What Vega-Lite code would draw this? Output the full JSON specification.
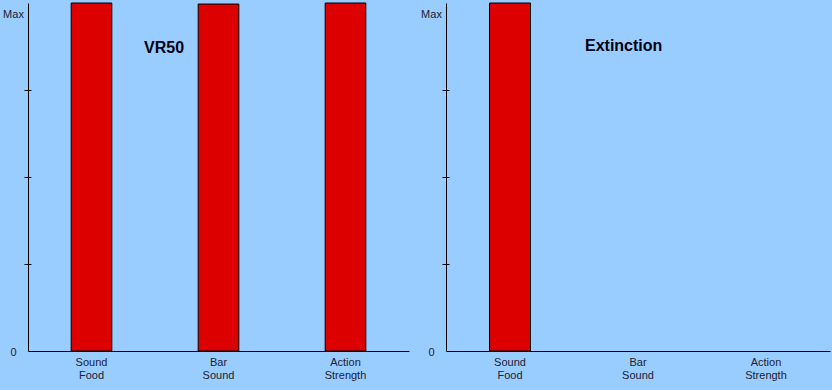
{
  "$schema": "https://vega.github.io/schema/vega-lite/v6.json",
  "background": "#99CCFF",
  "padding": {"left": 2, "top": 2, "right": 2, "bottom": 16},
  "spacing": 11,
  "config": {
    "view": {"stroke": null},
    "font": "Liberation Sans",
    "axis": {"labelFont": "Liberation Sans", "labelFontSize": 11, "labelColor": "#222233", "domainColor": "#000000", "tickColor": "#000000", "grid": false}
  },
  "data": {"values": [
    {"test": "VR50", "category": "Sound Food", "value": 1.0},
    {"test": "VR50", "category": "Bar Sound", "value": 0.997},
    {"test": "VR50", "category": "Action Strength", "value": 1.0},
    {"test": "Extinction", "category": "Sound Food", "value": 1.0},
    {"test": "Extinction", "category": "Bar Sound", "value": 0},
    {"test": "Extinction", "category": "Action Strength", "value": 0}
  ]},
  "hconcat": [
    {
      "width": 381, "height": 348,
      "title": {"text": "VR50", "anchor": "start", "frame": "group", "orient": "top", "offset": -66, "dx": 116, "baseline": "alphabetic", "fontSize": 16, "fontWeight": "bold", "font": "Liberation Sans", "color": "#000011"},
      "transform": [{"filter": "datum.test == 'VR50'"}],
      "encoding": {
        "x": {"field": "category", "type": "nominal", "sort": null, "title": null,
          "scale": {"paddingInner": 0.68, "paddingOuter": 0.34},
          "axis": {"labelAngle": 0, "ticks": false, "labelPadding": 5, "labelExpr": "split(datum.label, ' ')", "labelLineHeight": 13}}
      },
      "layer": [
        {"mark": {"type": "bar", "fill": "#DD0000", "stroke": "#000000", "strokeWidth": 1},
         "encoding": {
           "strokeOpacity": {"condition": {"test": "datum.value == 0", "value": 0}, "value": 1},
           "y": {"field": "value", "type": "quantitative", "title": null,
           "scale": {"domain": [0, 1], "nice": false},
           "axis": {"values": [0, 0.25, 0.5, 0.75, 1], "labelExpr": "datum.value == 1 ? 'Max' : datum.value == 0 ? '0' : ''", "labelAlign": "center", "labelPadding": 11, "tickSize": 4,
             "tickOpacity": {"condition": {"test": "datum.value == 0 || datum.value == 1", "value": 0}, "value": 1},
             "labelOffset": {"condition": {"test": "datum.value == 1", "value": 11}, "value": 1}}}}},
        {"mark": {"type": "bar", "opacity": 0},
         "encoding": {"y": {"field": "value", "type": "quantitative", "title": null,
           "scale": {"domain": [0, 1], "nice": false},
           "axis": {"orient": "left", "values": [0.25, 0.5, 0.75], "tickSize": -3, "labels": false, "domain": false}}}}
      ],
      "resolve": {"scale": {"y": "independent"}}
    },
    {
      "width": 384, "height": 348,
      "title": {"text": "Extinction", "anchor": "start", "frame": "group", "orient": "top", "offset": -64, "dx": 139, "baseline": "alphabetic", "fontSize": 16, "fontWeight": "bold", "font": "Liberation Sans", "color": "#000011"},
      "transform": [{"filter": "datum.test == 'Extinction'"}],
      "encoding": {
        "x": {"field": "category", "type": "nominal", "sort": null, "title": null,
          "scale": {"paddingInner": 0.68, "paddingOuter": 0.34},
          "axis": {"labelAngle": 0, "ticks": false, "labelPadding": 5, "labelExpr": "split(datum.label, ' ')", "labelLineHeight": 13}}
      },
      "layer": [
        {"mark": {"type": "bar", "fill": "#DD0000", "stroke": "#000000", "strokeWidth": 1},
         "encoding": {
           "strokeOpacity": {"condition": {"test": "datum.value == 0", "value": 0}, "value": 1},
           "y": {"field": "value", "type": "quantitative", "title": null,
           "scale": {"domain": [0, 1], "nice": false},
           "axis": {"values": [0, 0.25, 0.5, 0.75, 1], "labelExpr": "datum.value == 1 ? 'Max' : datum.value == 0 ? '0' : ''", "labelAlign": "center", "labelPadding": 11, "tickSize": 4,
             "tickOpacity": {"condition": {"test": "datum.value == 0 || datum.value == 1", "value": 0}, "value": 1},
             "labelOffset": {"condition": {"test": "datum.value == 1", "value": 11}, "value": 1}}}}},
        {"mark": {"type": "bar", "opacity": 0},
         "encoding": {"y": {"field": "value", "type": "quantitative", "title": null,
           "scale": {"domain": [0, 1], "nice": false},
           "axis": {"orient": "left", "values": [0.25, 0.5, 0.75], "tickSize": -3, "labels": false, "domain": false}}}}
      ],
      "resolve": {"scale": {"y": "independent"}}
    }
  ]
}
